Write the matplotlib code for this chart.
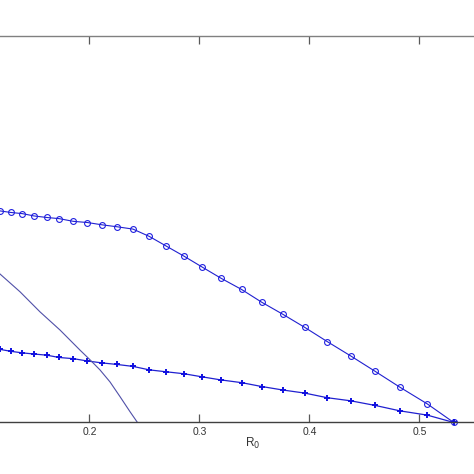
import matplotlib
matplotlib.use("Agg")
import matplotlib.pyplot as plt

# R0 grid shared by the two marked curves
r0 = [0.1186, 0.1284, 0.1389, 0.1495, 0.1611, 0.1725, 0.1853, 0.1980, 0.2114,
      0.2250, 0.2395, 0.2544, 0.2698, 0.2859, 0.3023, 0.3195, 0.3382, 0.3565,
      0.3756, 0.3956, 0.4162, 0.4375, 0.4598, 0.4823, 0.5071, 0.5311]

y_circ = [0.547, 0.543, 0.540, 0.534, 0.530, 0.527, 0.520, 0.517, 0.511,
          0.506, 0.500, 0.481, 0.456, 0.430, 0.402, 0.373, 0.344, 0.311,
          0.280, 0.246, 0.209, 0.172, 0.132, 0.091, 0.048, 0.0]

y_plus = [0.189, 0.184, 0.180, 0.177, 0.174, 0.168, 0.165, 0.159, 0.154,
          0.150, 0.145, 0.136, 0.131, 0.126, 0.118, 0.110, 0.103, 0.093,
          0.084, 0.076, 0.064, 0.056, 0.044, 0.030, 0.019, 0.0]

# plain curve
r0_line = [0.1095, 0.1186, 0.1368, 0.1550, 0.1732, 0.1914, 0.2005, 0.2095,
           0.2186, 0.2277, 0.2368, 0.2436]
y_line = [0.407, 0.384, 0.338, 0.286, 0.239, 0.187, 0.162, 0.136,
          0.105, 0.067, 0.028, 0.0]

xticks = [0.2, 0.3, 0.4, 0.5]

plt.rcParams['font.family'] = ['Liberation Sans', 'DejaVu Sans']

fig = plt.figure(figsize=(4.74, 4.74), dpi=100)
ax = fig.add_axes([0.0, 0.1087, 1.0, 0.816])

ax.plot(r0, y_circ, color='#2020d0', lw=0.8, marker='o', ms=4.2,
        mfc='none', mec='#2020e0', mew=0.8, clip_on=False)
ax.plot(r0, y_plus, color='#2020d0', lw=0.9, marker='+', ms=5,
        mec='#1010e0', mew=1.4, clip_on=False)
ax.plot(r0_line, y_line, color='#5050a8', lw=0.8)

ax.set_xticks(xticks)
ax.set_xticklabels([str(t) for t in xticks])
ax.set_yticks([])
ax.set_xlim(0.11864, 0.54955)
ax.set_ylim(0, 1)

ax.spines['left'].set_visible(False)
ax.spines['right'].set_visible(False)
ax.spines['top'].set_color('0.5')
ax.spines['bottom'].set_color('0.25')
for s in ax.spines.values():
    s.set_linewidth(1.0)

ax.tick_params(axis='x', direction='in', length=5.5, width=0.9, color='0.35',
               top=True, bottom=True, labelsize=7.5, pad=3, labelcolor='0.2')

ax.set_xlabel('R$_0$', fontsize=8.5, color='0.2')
ax.xaxis.set_label_coords(253 / 474, -0.035)

fig.savefig('out.png', dpi=100)
